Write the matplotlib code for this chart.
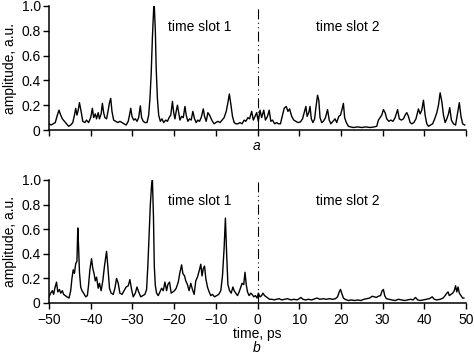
import numpy as np
import matplotlib
matplotlib.use("Agg")
import matplotlib.pyplot as plt

plt.rcParams['font.family'] = ['Liberation Sans', 'DejaVu Sans']
plt.rcParams['font.size'] = 10

# trace a (top): time in ps, amplitude in a.u.
t_a = [-50.0, -49.5, -49.0, -48.5, -48.0, -47.6, -47.2, -46.8, -46.3, -45.8,
       -45.3, -44.8, -44.3, -43.9, -43.6, -43.3, -43.0, -42.7, -42.3, -41.9,
       -41.4, -41.0, -40.5, -40.0, -39.6, -39.3, -38.9, -38.6, -38.2, -37.9,
       -37.5, -37.2, -36.9, -36.6, -36.2, -35.8, -35.5, -35.2, -34.9, -34.5,
       -34.0, -33.5, -33.0, -32.5, -32.0, -31.5, -31.0, -30.7, -30.4, -30.1,
       -29.7, -29.3, -28.9, -28.5, -28.1, -27.8, -27.4, -27.0, -26.5, -26.1,
       -25.8, -25.5, -25.2, -24.9, -24.75, -24.5, -24.3, -24.0, -23.7, -23.3,
       -22.9, -22.5, -22.0, -21.6, -21.2, -20.8, -20.4, -20.1, -19.8, -19.5,
       -19.2, -18.9, -18.6, -18.2, -17.8, -17.4, -17.1, -16.7, -16.3, -15.9,
       -15.5, -15.1, -14.7, -14.3, -13.9, -13.5, -13.0, -12.7, -12.3, -11.9,
       -11.5, -11.1, -10.8, -10.4, -10.0, -9.5, -9.0, -8.5, -8.0, -7.5,
       -7.1, -6.75, -6.4, -6.0, -5.6, -5.2, -4.7, -4.2, -3.7, -3.2,
       -2.8, -2.3, -1.9, -1.4, -1.0, -0.6, -0.2, 0.2, 0.6, 1.0,
       1.5, 1.9, 2.4, 2.8, 3.2, 3.6, 4.1, 4.6, 5.0, 5.5,
       6.0, 6.4, 6.9, 7.3, 7.7, 8.2, 8.7, 9.2, 9.7, 10.3,
       10.8, 11.2, 11.6, 11.9, 12.3, 12.6, 12.9, 13.3, 13.7, 14.0,
       14.4, 14.7, 15.0, 15.4, 15.8, 16.3, 16.8, 17.2, 17.6, 18.1,
       18.6, 19.0, 19.5, 19.9, 20.3, 20.6, 20.9, 21.3, 21.8, 22.3,
       23.0, 24.0, 25.0, 26.0, 27.0, 28.0, 28.6, 29.0, 29.4, 29.8,
       30.2, 30.6, 31.0, 31.5, 32.0, 32.5, 33.0, 33.6, 34.0, 34.5,
       35.0, 35.4, 35.8, 36.2, 36.6, 37.0, 37.5, 38.0, 38.6, 39.0,
       39.4, 39.8, 40.2, 40.6, 41.0, 41.5, 42.0, 42.5, 43.0, 43.4,
       43.8, 44.2, 44.6, 45.0, 45.4, 45.8, 46.1, 46.5, 47.0, 47.5,
       47.9, 48.4, 48.8, 49.2, 49.7]
amp_a = [0.05, 0.04, 0.05, 0.06, 0.12, 0.16, 0.12, 0.09, 0.07, 0.05,
         0.03, 0.04, 0.06, 0.12, 0.175, 0.12, 0.16, 0.22, 0.15, 0.07,
         0.06, 0.08, 0.06, 0.10, 0.175, 0.10, 0.13, 0.09, 0.14, 0.09,
         0.13, 0.215, 0.14, 0.10, 0.09, 0.16, 0.22, 0.255, 0.15, 0.08,
         0.07, 0.06, 0.07, 0.06, 0.05, 0.04, 0.07, 0.12, 0.175, 0.11,
         0.08, 0.09, 0.07, 0.10, 0.195, 0.10, 0.07, 0.06, 0.06, 0.12,
         0.25, 0.45, 0.75, 0.98, 1.0, 0.80, 0.50, 0.25, 0.12, 0.07,
         0.09, 0.06, 0.08, 0.07, 0.10, 0.12, 0.23, 0.14, 0.09, 0.15,
         0.20, 0.14, 0.08, 0.11, 0.10, 0.19, 0.12, 0.07, 0.09, 0.08,
         0.15, 0.09, 0.06, 0.08, 0.07, 0.10, 0.17, 0.11, 0.07, 0.14,
         0.12, 0.09, 0.07, 0.05, 0.06, 0.07, 0.06, 0.08, 0.10, 0.15,
         0.22, 0.29, 0.21, 0.11, 0.06, 0.05, 0.05, 0.06, 0.05, 0.08,
         0.07, 0.10, 0.09, 0.15, 0.08, 0.11, 0.14, 0.07, 0.16, 0.10,
         0.16, 0.08, 0.11, 0.16, 0.07, 0.08, 0.05, 0.06, 0.05, 0.05,
         0.12, 0.175, 0.19, 0.15, 0.17, 0.11, 0.08, 0.07, 0.06, 0.065,
         0.09, 0.14, 0.19, 0.11, 0.14, 0.19, 0.09, 0.06, 0.09, 0.18,
         0.28, 0.24, 0.10, 0.06, 0.07, 0.10, 0.165, 0.08, 0.05, 0.07,
         0.09, 0.06, 0.11, 0.12, 0.17, 0.215, 0.10, 0.06, 0.03, 0.025,
         0.02, 0.025, 0.02, 0.025, 0.02, 0.025, 0.03, 0.08, 0.10, 0.12,
         0.165, 0.14, 0.09, 0.07, 0.08, 0.07, 0.10, 0.165, 0.09, 0.08,
         0.09, 0.12, 0.14, 0.11, 0.06, 0.05, 0.06, 0.09, 0.17, 0.13,
         0.16, 0.24, 0.12, 0.05, 0.03, 0.04, 0.05, 0.09, 0.14, 0.20,
         0.30, 0.23, 0.12, 0.06, 0.09, 0.13, 0.18, 0.08, 0.05, 0.04,
         0.12, 0.22, 0.11, 0.05, 0.04]

# trace b (bottom)
t_b = [-50.0, -49.6, -49.2, -48.9, -48.6, -48.2, -47.9, -47.5, -47.2, -46.8,
       -46.5, -46.1, -45.7, -45.2, -44.8, -44.5, -44.2, -43.9, -43.6, -43.3,
       -43.1, -42.9, -42.7, -42.4, -42.1, -41.7, -41.2, -40.8, -40.5, -40.2,
       -39.8, -39.5, -39.2, -38.9, -38.6, -38.2, -37.9, -37.5, -37.1, -36.7,
       -36.2, -35.9, -35.5, -35.1, -34.6, -34.2, -33.8, -33.4, -33.0, -32.5,
       -32.0, -31.5, -31.0, -30.6, -30.2, -29.8, -29.3, -28.9, -28.5, -28.0,
       -27.5, -27.0, -26.6, -26.3, -26.0, -25.7, -25.4, -25.2, -24.95, -24.75,
       -24.5, -24.2, -23.8, -23.4, -23.0, -22.6, -22.2, -21.8, -21.5, -21.1,
       -20.7, -20.3, -19.9, -19.5, -19.0, -18.6, -18.2, -17.9, -17.5, -17.2,
       -16.8, -16.4, -16.0, -15.6, -15.2, -14.8, -14.4, -14.0, -13.6, -13.3,
       -13.0, -12.7, -12.4, -12.0, -11.6, -11.2, -10.8, -10.3, -9.8, -9.3,
       -8.8, -8.4, -8.0, -7.7, -7.4, -7.1, -6.7, -6.3, -5.9, -5.6,
       -5.2, -4.8, -4.4, -4.0, -3.7, -3.3, -3.0, -2.7, -2.4, -2.0,
       -1.6, -1.3, -0.9, -0.5, -0.1, 0.2, 0.6, 1.0, 1.3, 1.7,
       2.1, 2.5, 2.9, 3.5, 4.0, 4.5, 5.2, 5.8, 6.5, 7.2,
       8.0, 8.8, 9.5, 10.0, 10.4, 10.9, 11.5, 12.2, 13.0, 13.8,
       14.3, 15.0, 15.8, 16.5, 17.2, 18.0, 18.7, 19.2, 19.6, 19.9,
       20.2, 20.6, 21.0, 21.8, 22.5, 23.3, 24.0, 24.8, 25.5, 26.2,
       26.9, 27.5, 28.0, 28.5, 29.0, 29.5, 29.9, 30.2, 30.5, 30.9,
       31.5, 32.2, 33.0, 33.8, 34.5, 35.3, 36.0, 36.7, 37.3, 37.9,
       38.4, 39.0, 39.8, 40.5, 41.2, 41.9, 42.4, 43.0, 43.8, 44.5,
       45.0, 45.4, 45.7, 46.0, 46.4, 46.8, 47.2, 47.5, 47.8, 48.1,
       48.4, 48.8, 49.2, 49.5]
amp_b = [0.05, 0.08, 0.10, 0.07, 0.12, 0.17, 0.09, 0.11, 0.08, 0.10,
         0.07, 0.06, 0.05, 0.04, 0.10, 0.20, 0.27, 0.24, 0.32, 0.34,
         0.61, 0.45, 0.25, 0.13, 0.10, 0.08, 0.05, 0.06, 0.15, 0.27,
         0.36, 0.28, 0.24, 0.18, 0.21, 0.12, 0.16, 0.10, 0.18, 0.30,
         0.42, 0.30, 0.12, 0.08, 0.07, 0.12, 0.20, 0.16, 0.08, 0.07,
         0.10, 0.13, 0.14, 0.19, 0.11, 0.05, 0.08, 0.13, 0.09, 0.05,
         0.06, 0.07, 0.11, 0.30, 0.55, 0.80, 0.96, 1.0, 0.70, 0.30,
         0.14, 0.08, 0.06, 0.09, 0.12, 0.10, 0.17, 0.10, 0.15, 0.17,
         0.08, 0.09, 0.10, 0.12, 0.17, 0.25, 0.31, 0.24, 0.22, 0.18,
         0.15, 0.10, 0.16, 0.11, 0.07, 0.18, 0.21, 0.26, 0.315, 0.22,
         0.28, 0.30, 0.20, 0.13, 0.09, 0.06, 0.07, 0.05, 0.06, 0.07,
         0.10, 0.22, 0.45, 0.69, 0.40, 0.15, 0.10, 0.08, 0.13, 0.10,
         0.08, 0.06, 0.09, 0.13, 0.16, 0.15, 0.25, 0.15, 0.09, 0.06,
         0.08, 0.07, 0.05, 0.06, 0.04, 0.08, 0.05, 0.06, 0.08, 0.06,
         0.05, 0.04, 0.03, 0.03, 0.025, 0.03, 0.035, 0.025, 0.03, 0.035,
         0.025, 0.03, 0.025, 0.035, 0.045, 0.03, 0.025, 0.03, 0.025, 0.035,
         0.04, 0.03, 0.035, 0.03, 0.035, 0.03, 0.035, 0.05, 0.09, 0.11,
         0.08, 0.04, 0.03, 0.02, 0.025, 0.02, 0.025, 0.02, 0.03, 0.035,
         0.04, 0.055, 0.05, 0.045, 0.055, 0.06, 0.10, 0.11, 0.06, 0.035,
         0.03, 0.025, 0.02, 0.03, 0.025, 0.02, 0.025, 0.03, 0.025, 0.045,
         0.025, 0.02, 0.025, 0.03, 0.035, 0.05, 0.03, 0.025, 0.03, 0.04,
         0.06, 0.08, 0.09, 0.06, 0.07, 0.08, 0.10, 0.14, 0.09, 0.13,
         0.08, 0.06, 0.04, 0.04]

x_ticks = [-50, -40, -30, -20, -10, 0, 10, 20, 30, 40, 50]
y_ticks = [0, 0.2, 0.4, 0.6, 0.8, 1.0]
y_ticklabels = ['0', '0.2', '0.4', '0.6', '0.8', '1.0']

fig = plt.figure(figsize=(4.74, 3.55), dpi=100)
ax1 = fig.add_axes([0.1034, 0.6338, 0.8797, 0.3493])
ax2 = fig.add_axes([0.1034, 0.1465, 0.8797, 0.3465])

for ax, t, a in [(ax1, t_a, amp_a), (ax2, t_b, amp_b)]:
    ax.plot(t, a, color='black', lw=1.0)
    # boundary between the two time slots
    ax.plot([0, 0], [0, 1.0], color='black', lw=0.8,
            linestyle=(0, (9, 3, 1, 3, 1, 3)))
    ax.set_xlim(-50, 50)
    ax.set_ylim(0, 1.0)
    ax.set_xticks(x_ticks)
    ax.set_yticks(y_ticks)
    ax.set_yticklabels(y_ticklabels)
    ax.spines['top'].set_visible(False)
    ax.spines['right'].set_visible(False)
    ax.spines['left'].set_linewidth(1.1)
    ax.spines['bottom'].set_linewidth(1.1)
    ax.tick_params(direction='out', length=4, width=1.0, labelsize=10, pad=2)
    ax.tick_params(axis='x', pad=3.5)
    ax.set_ylabel('amplitude, a.u.', fontsize=10)
    ax.yaxis.set_label_coords(-0.077, 0.5)
    ax.text(-21.5, 0.83, 'time slot 1', fontsize=10, va='center')
    ax.text(14, 0.83, 'time slot 2', fontsize=10, va='center')

ax1.set_xticklabels([])
ax2.set_xlabel('time, ps', fontsize=10, labelpad=0)

fig.text(0.542, 0.589, 'a', fontsize=10, style='italic', ha='center', va='center')
fig.text(0.542, 0.02, 'b', fontsize=10, style='italic', ha='center', va='center')

plt.savefig('out.png', dpi=100)
